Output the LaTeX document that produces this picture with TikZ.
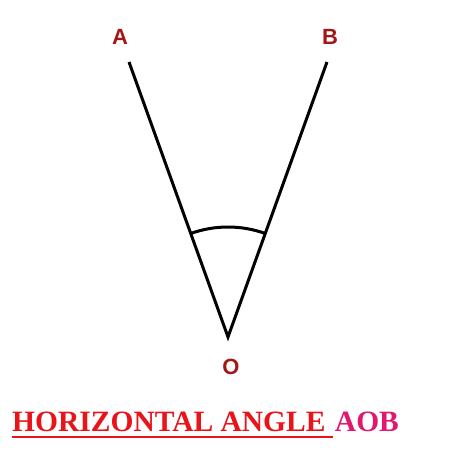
\documentclass[tikz,border=0pt]{standalone}
\usepackage{fontspec}
\setmainfont{Liberation Serif}
\newfontfamily\labelfont{Liberation Sans}
\usetikzlibrary{calc}
\definecolor{ptred}{HTML}{A31616}
\definecolor{titlered}{HTML}{E8141A}
\definecolor{titlepink}{HTML}{E0186E}
\tikzset{pt/.style={text=ptred,font=\labelfont\bfseries\fontsize{22}{22}\selectfont}}

\begin{document}
\begin{tikzpicture}[x=1pt,y=1pt]
\useasboundingbox (0,0) rectangle (459,450);
\coordinate (O) at (228,113);
\coordinate (A) at (129,388);
\coordinate (B) at (327,388);
\draw[line width=3pt] (A) -- (O) -- (B);
\draw[line width=3pt] ($(O)+(70.2:110)$) arc[start angle=70.2, end angle=109.8, radius=110];
\node[pt] (la) at (120,413) {A};
\node[pt] (lb) at (330,413) {B};
\node[pt] (lo) at (231,83) {O};
\node[anchor=base west,inner sep=0pt,text=titlered,font=\bfseries\fontsize{29.5}{29.5}\selectfont] (title) at (12,18) {HORIZONTAL ANGLE};
\coordinate (ul) at ($(title.base east)+(7,-5)$);
\node[anchor=base west,inner sep=0pt,text=titlepink,font=\bfseries\fontsize{29.5}{29.5}\selectfont] (aob) at ($(title.base east)+(9,0)$) {AOB};
\draw[titlered,line width=2.2pt] (12,13) -- (ul);
\end{tikzpicture}
\end{document}
